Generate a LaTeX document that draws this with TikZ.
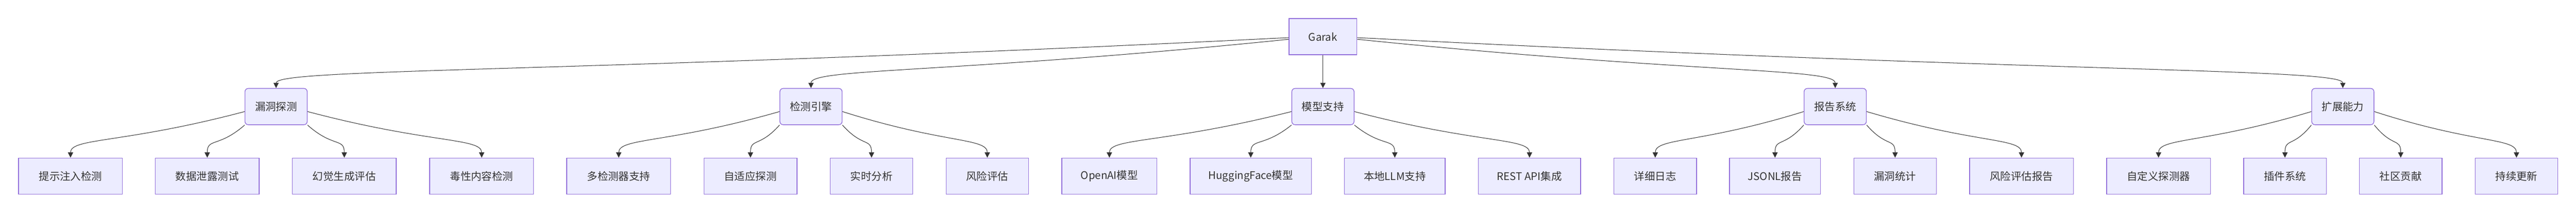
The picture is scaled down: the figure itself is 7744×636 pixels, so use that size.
\documentclass[tikz,border=0pt]{standalone}
\usepackage{fontspec}
\setmainfont{Noto Sans CJK SC}
\usetikzlibrary{arrows.meta,calc}
\definecolor{nfill}{HTML}{ECECFF}
\definecolor{nline}{HTML}{9370DB}
\definecolor{ink}{HTML}{333333}
\newcommand\conn[2]{\draw[arr] (#1) .. controls ($(#1)!0.7!(#2)$) and ($(#2)+(0,-60)$) .. (#2);}
\begin{document}
\begin{tikzpicture}[x=0.01cm,y=-0.01cm,
  box/.style={draw=nline,fill=nfill,line width=0.6pt,inner sep=0pt,text=ink,font=\fontsize{9}{11}\selectfont,minimum height=1.09cm},
  mid/.style={box,rounded corners=0.1cm},
  arr/.style={draw=ink,line width=0.45pt,-{Triangle[length=4.5pt,width=4.5pt]}}]
\useasboundingbox[fill=white] (0,0) rectangle (7744,636);
\node[box,minimum width=2.04cm,minimum height=1.08cm] (g) at (3977,110) {Garak};
\node[mid,minimum width=1.87cm] (a) at (830,320) {漏洞探测};
\node[mid,minimum width=1.87cm] (b) at (2438,320) {检测引擎};
\node[mid,minimum width=1.87cm] (c) at (3977,320) {模型支持};
\node[mid,minimum width=1.87cm] (d) at (5517,320) {报告系统};
\node[mid,minimum width=1.87cm] (e) at (7043,320) {扩展能力};
\node[box,minimum width=3.12cm] (a1) at (212,529) {提示注入检测};
\node[box,minimum width=3.12cm] (a2) at (623,529) {数据泄露测试};
\node[box,minimum width=3.12cm] (a3) at (1035,529) {幻觉生成评估};
\node[box,minimum width=3.12cm] (a4) at (1448,529) {毒性内容检测};
\node[box,minimum width=3.12cm] (b1) at (1860,529) {多检测器支持};
\node[box,minimum width=2.80cm] (b2) at (2256,529) {自适应探测};
\node[box,minimum width=2.48cm] (b3) at (2620,529) {实时分析};
\node[box,minimum width=2.48cm] (b4) at (2968,529) {风险评估};
\node[box,minimum width=2.86cm] (c1) at (3335,529) {OpenAI模型};
\node[box,minimum width=3.64cm] (c2) at (3760,529) {HuggingFace模型};
\node[box,minimum width=3.03cm] (c3) at (4193,529) {本地LLM支持};
\node[box,minimum width=3.07cm] (c4) at (4598,529) {REST API集成};
\node[box,minimum width=2.48cm] (d1) at (4976,529) {详细日志};
\node[box,minimum width=2.73cm] (d2) at (5336,529) {JSONL报告};
\node[box,minimum width=2.48cm] (d3) at (5697,529) {漏洞统计};
\node[box,minimum width=3.12cm] (d4) at (6077,529) {风险评估报告};
\node[box,minimum width=3.12cm] (e1) at (6489,529) {自定义探测器};
\node[box,minimum width=2.48cm] (e2) at (6869,529) {插件系统};
\node[box,minimum width=2.48cm] (e3) at (7217,529) {社区贡献};
\node[box,minimum width=2.48cm] (e4) at (7565,529) {持续更新};
\coordinate (gl1) at ($(g.west)+(0,3)$);
\coordinate (gl2) at ($(g.west)+(0,8)$);
\coordinate (gr1) at ($(g.east)+(0,3)$);
\coordinate (gr2) at ($(g.east)+(0,8)$);
\conn{gl1}{a.north}
\conn{gl2}{b.north}
\draw[arr] (g.south) -- (c.north);
\conn{gr2}{d.north}
\conn{gr1}{e.north}
\foreach \p in {a,b,c,d,e}{
  \coordinate (\p L) at ($(\p.west)+(0,15)$);
  \coordinate (\p R) at ($(\p.east)+(0,15)$);
  \conn{\p L}{\p1.north}
  \conn{\p.south west}{\p2.north}
  \conn{\p.south east}{\p3.north}
  \conn{\p R}{\p4.north}
}
\end{tikzpicture}
\end{document}
